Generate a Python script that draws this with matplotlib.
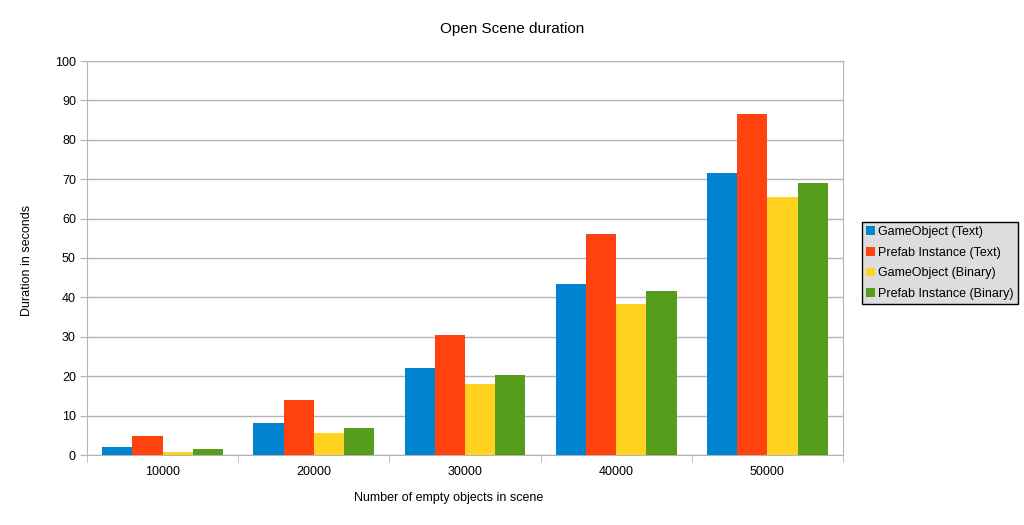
import matplotlib.pyplot as plt
import numpy as np

plt.rcParams['font.family'] = ['Liberation Sans', 'DejaVu Sans']

categories = ['10000', '20000', '30000', '40000', '50000']
series = ['GameObject (Text)', 'Prefab Instance (Text)', 'GameObject (Binary)', 'Prefab Instance (Binary)']
go_text = [2.1, 8.2, 22.1, 43.4, 71.7]
prefab_text = [4.9, 14.0, 30.5, 56.0, 86.6]
go_binary = [0.8, 5.5, 18.1, 38.4, 65.4]
prefab_binary = [1.4, 6.9, 20.3, 41.6, 69.0]
colors = ['#0084d1', '#ff420e', '#ffd320', '#579d1c']

fig = plt.figure(figsize=(10.24, 5.25), dpi=100)
ax = fig.add_axes([87/1024, 70/525, 756/1024, 394/525])

x = np.arange(len(categories))
w = 0.2
data = [go_text, prefab_text, go_binary, prefab_binary]
for i, (vals, c, lab) in enumerate(zip(data, colors, series)):
    ax.bar(x + (i - 1.5) * w, vals, w, color=c, label=lab, zorder=3)

ax.set_xlim(-0.5, len(categories) - 0.5)
ax.set_ylim(0, 100)
ax.set_yticks(range(0, 101, 10))
ax.set_xticks(x)
ax.set_xticklabels(categories)
ax.set_xticks(np.arange(-0.5, len(categories)), minor=True)
ax.tick_params(axis='x', which='major', length=0, labelsize=9, pad=8)
ax.tick_params(axis='x', which='minor', length=5, color='#b3b3b3', direction='out')
ax.tick_params(axis='y', length=5, color='#b3b3b3', labelsize=9, pad=3)
ax.grid(axis='y', color='#b3b3b3', linewidth=1, zorder=0)
for s in ax.spines.values():
    s.set_color('#b3b3b3')

fig.text(0.5, 496/525, 'Open Scene duration', fontsize=11, ha='center', va='center')
fig.text(449/1024, 27/525, 'Number of empty objects in scene', fontsize=9, ha='center', va='center')
fig.text(27/1024, 265/525, 'Duration in seconds', fontsize=9, ha='center', va='center', rotation=90)

leg = ax.legend(loc='center left', bbox_to_anchor=(862/1024, 262/525), bbox_transform=fig.transFigure,
                fontsize=9, frameon=True, fancybox=False, edgecolor='black', facecolor='#dddddd',
                framealpha=1, handlelength=0.7, handleheight=0.7, handletextpad=0.3,
                labelspacing=0.7, borderpad=0.3, borderaxespad=0)
leg.get_frame().set_linewidth(1)

fig.savefig('out.png', dpi=100)
